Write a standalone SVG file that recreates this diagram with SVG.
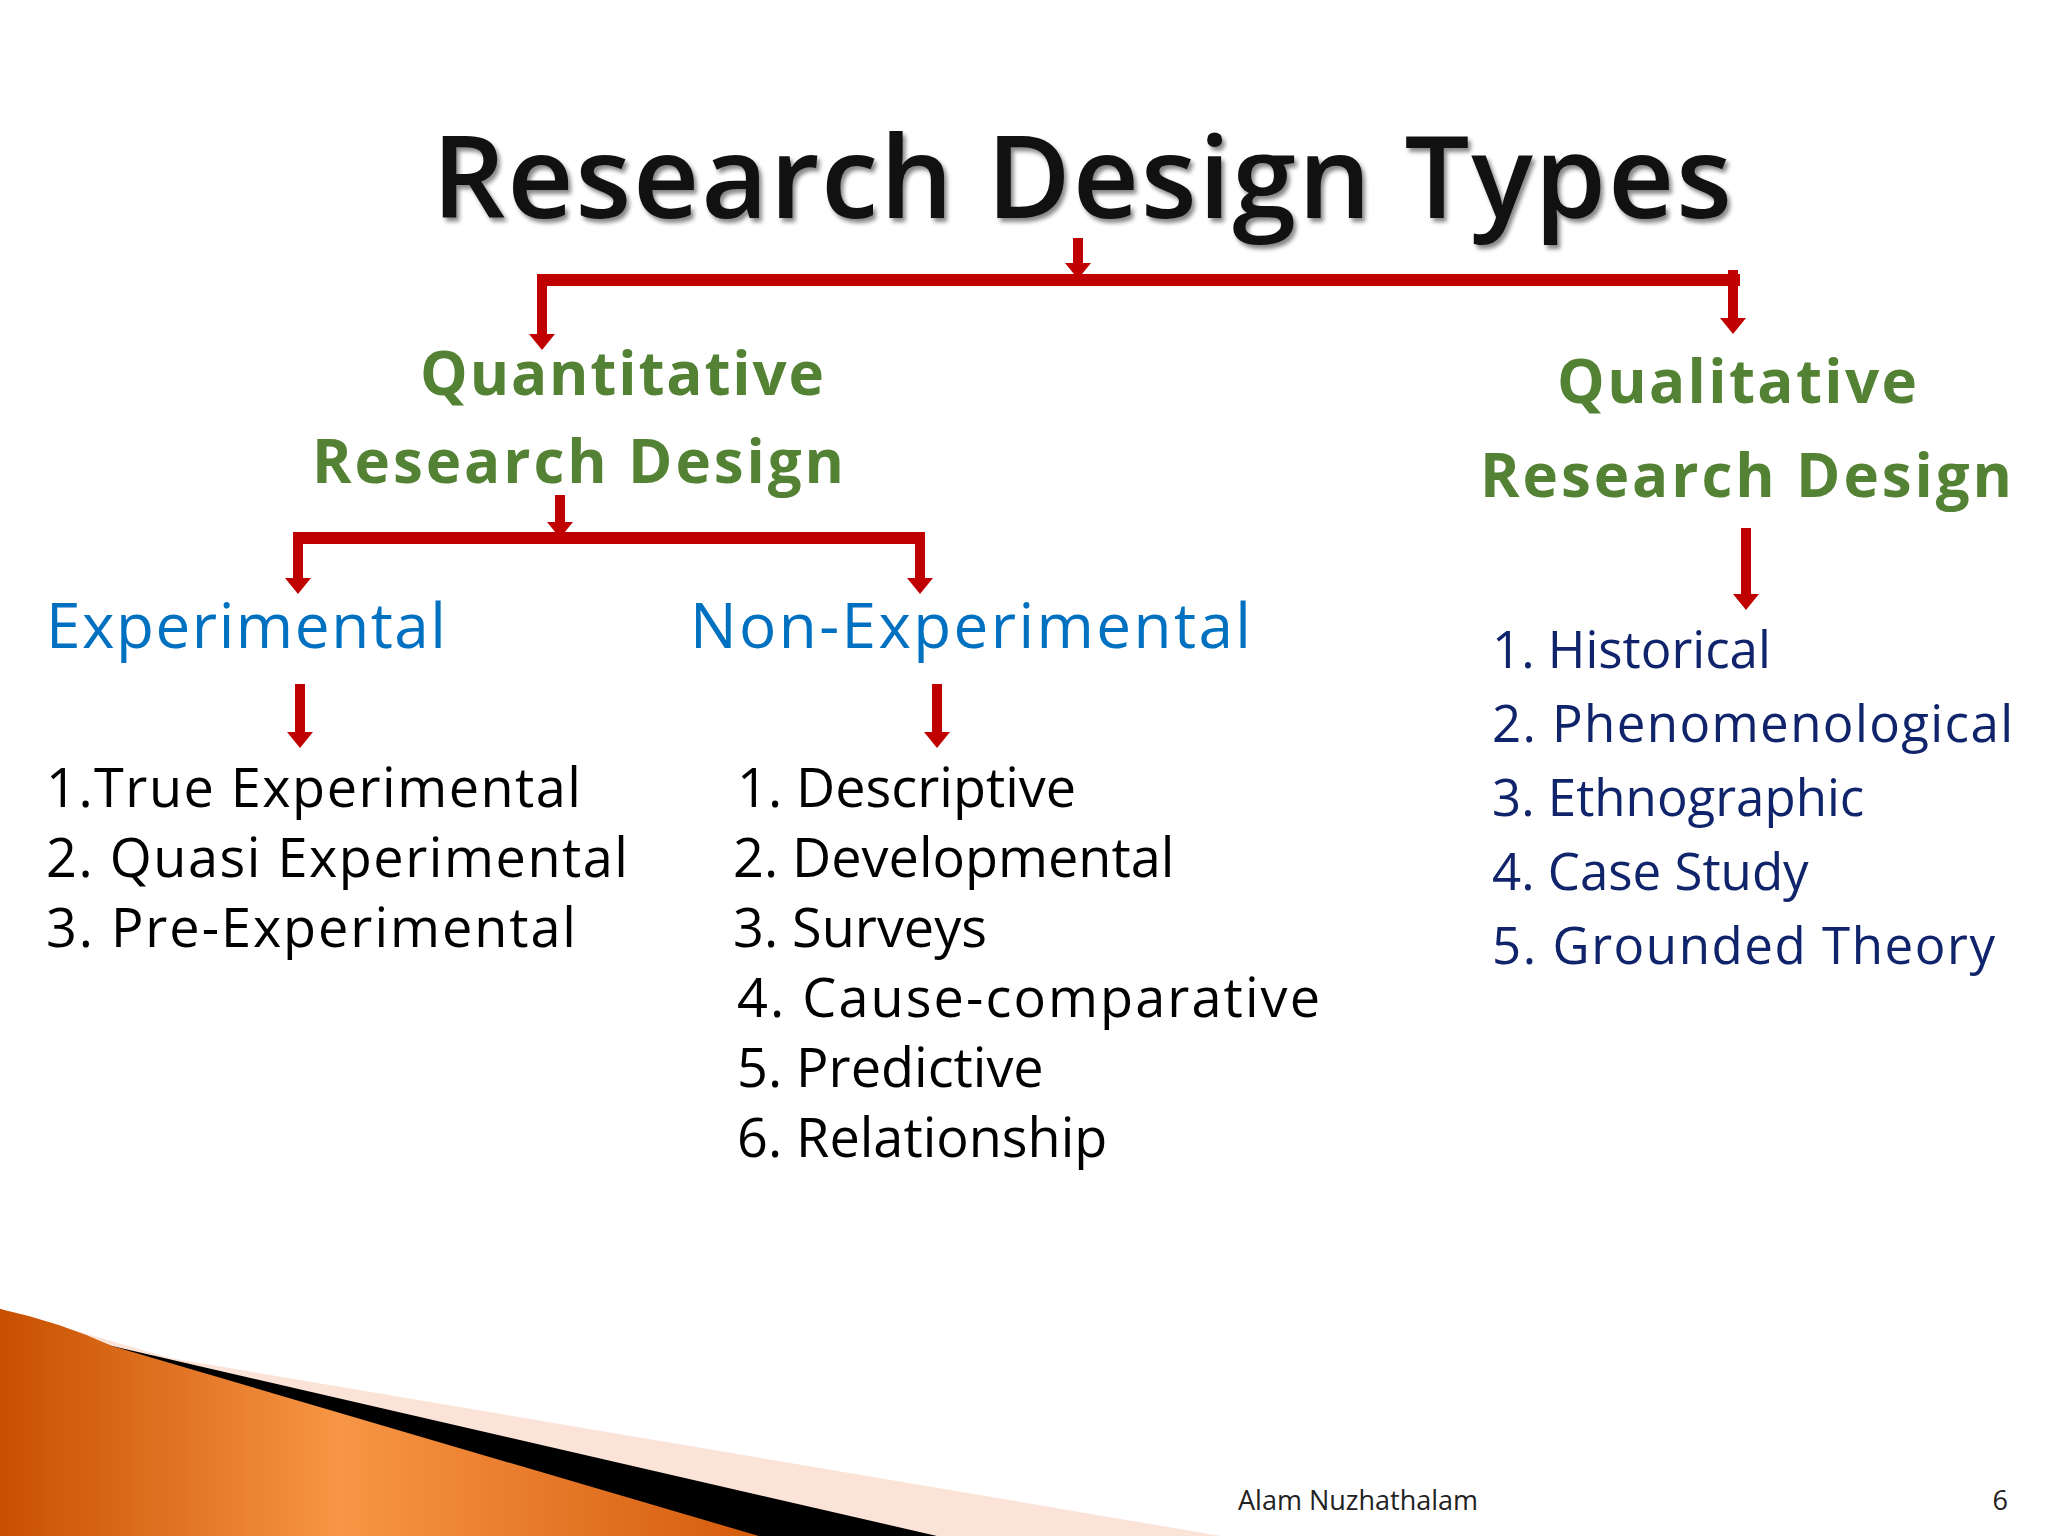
<svg xmlns="http://www.w3.org/2000/svg" width="2048" height="1536" viewBox="0 0 2048 1536">
<style>
.t{font-family:"Open Sans","Liberation Sans",sans-serif}
.g{fill:#548235;font-weight:bold;font-size:60px}
.b{fill:#0070C0;font-size:62px}
.k{fill:#000;font-size:54px}
.n{fill:#10246b;font-size:51px}
.r{fill:#C00000}
</style>
<rect width="2048" height="1536" fill="#fff"/>
<g id="decor">
<polygon points="0,1309 170,1358 1221,1536 0,1536" fill="#fbe3d8"/>
<polygon points="0,1309 112,1346 937,1536 0,1536" fill="#000"/>
<defs><linearGradient id="og" x1="0" y1="0" x2="1" y2="0"><stop offset="0" stop-color="#c85000"/><stop offset="0.45" stop-color="#f79646"/><stop offset="1" stop-color="#d45c0c"/></linearGradient></defs>
<path d="M0,1309 Q60,1322 112,1346 L759,1536 L0,1536 Z" fill="url(#og)"/>
</g>
<g id="title"><text class="t" x="1082" y="218" text-anchor="middle" font-size="115" font-weight="600" fill="#111" textLength="1300" style="filter:drop-shadow(3px 4px 2px #888)">Research Design Types</text></g>
<g id="connectors">
<rect class="r" x="537" y="274" width="1203" height="12"/>
<rect class="r" x="293" y="532" width="632" height="12"/>
<polygon class="r" points="1073,238 1083,238 1083,263 1091,263 1078,279 1065,263 1073,263"/>
<polygon class="r" points="537,280 547,280 547,334 555,334 542,350 529,334 537,334"/>
<polygon class="r" points="1728,270 1738,270 1738,318 1746,318 1733,334 1720,318 1728,318"/>
<polygon class="r" points="555,495 565,495 565,522 573,522 560,538 547,522 555,522"/>
<polygon class="r" points="293,532 303,532 303,578 311,578 298,594 285,578 293,578"/>
<polygon class="r" points="915,532 925,532 925,578 933,578 920,594 907,578 915,578"/>
<polygon class="r" points="295,684 305,684 305,732 313,732 300,748 287,732 295,732"/>
<polygon class="r" points="932,684 942,684 942,732 950,732 937,748 924,732 932,732"/>
<polygon class="r" points="1741,528 1751,528 1751,594 1759,594 1746,610 1733,594 1741,594"/>
</g>
<g id="quant"><text class="t g" x="622" y="395" text-anchor="middle" textLength="404">Quantitative</text><text class="t g" x="578" y="483" text-anchor="middle" textLength="532">Research Design</text></g>
<g id="qual"><text class="t g" x="1737" y="403" text-anchor="middle" textLength="360">Qualitative</text><text class="t g" x="1746" y="497" text-anchor="middle" textLength="532">Research Design</text></g>
<g id="exp"><text class="t b" x="46" y="648" textLength="400">Experimental</text></g>
<g id="nonexp"><text class="t b" x="690" y="648" textLength="561">Non-Experimental</text></g>
<g id="explist" class="t k">
<text x="46" y="807" textLength="535">1.True Experimental</text>
<text x="46" y="877" textLength="582">2. Quasi Experimental</text>
<text x="46" y="947" textLength="530">3. Pre-Experimental</text>
</g>
<g id="nonexplist" class="t k">
<text x="737" y="807">1. Descriptive</text>
<text x="733" y="877">2. Developmental</text>
<text x="733" y="947">3. Surveys</text>
<text x="737" y="1017" textLength="583">4. Cause-comparative</text>
<text x="737" y="1087">5. Predictive</text>
<text x="737" y="1157">6. Relationship</text>
</g>
<g id="quallist" class="t n">
<text x="1492" y="668">1. Historical</text>
<text x="1492" y="742" textLength="521">2. Phenomenological</text>
<text x="1492" y="816">3. Ethnographic</text>
<text x="1492" y="890">4. Case Study</text>
<text x="1492" y="964" textLength="503">5. Grounded Theory</text>
</g>
<g id="footer" class="t" font-size="27" fill="#222">
<text x="1238" y="1510">Alam Nuzhathalam</text>
<text x="2008" y="1510" text-anchor="end">6</text>
</g>
</svg>
